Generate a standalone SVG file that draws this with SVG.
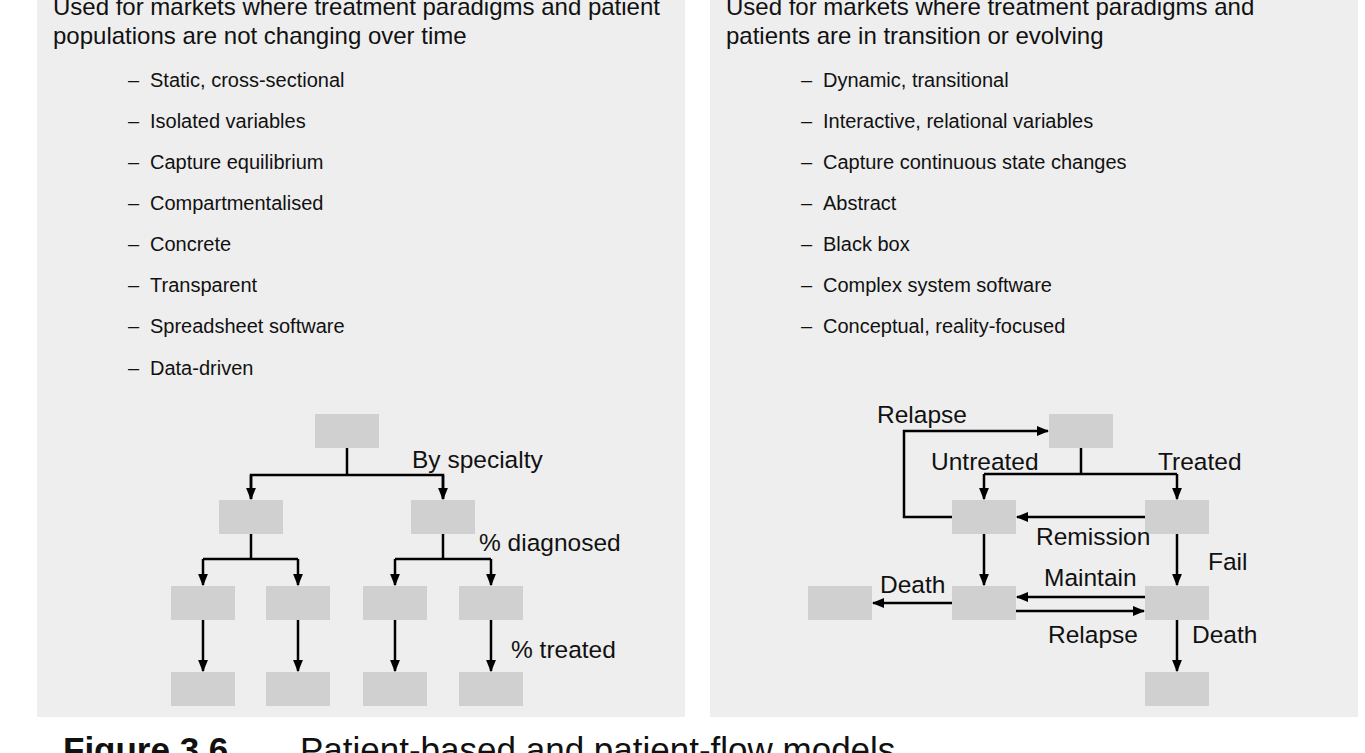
<svg xmlns="http://www.w3.org/2000/svg" width="1365" height="753" viewBox="0 0 1365 753">
<defs>
<marker id="a" viewBox="0 0 10 10" refX="9" refY="5" markerWidth="5" markerHeight="5" orient="auto"><path d="M0,1 L10,5 L0,9 Z" fill="#000"/></marker>
<style>
text{font-family:"Liberation Sans",Arial,sans-serif;fill:#111}
.h{font-size:24px}.b{font-size:20px}.l{font-size:24.5px}
.n{fill:#d0d0d0}
.c path{fill:none;stroke:#000;stroke-width:2.5}
.ar{marker-end:url(#a)}
</style>
</defs>
<rect width="1365" height="753" fill="#fff"/>
<rect x="37" y="0" width="648" height="717" fill="#eeeeee"/>
<rect x="710" y="0" width="648" height="717" fill="#eeeeee"/>
<text class="h" x="53" y="15">Used for markets where treatment paradigms and patient</text>
<text class="h" x="53" y="44">populations are not changing over time</text>
<text class="h" x="726" y="15">Used for markets where treatment paradigms and</text>
<text class="h" x="726" y="44">patients are in transition or evolving</text>
<g class="b">
<text x="128" y="87">–</text><text x="150" y="87" class="b">Static, cross-sectional</text>
<text x="128" y="128">–</text><text x="150" y="128" class="b">Isolated variables</text>
<text x="128" y="169">–</text><text x="150" y="169" class="b">Capture equilibrium</text>
<text x="128" y="210">–</text><text x="150" y="210" class="b">Compartmentalised</text>
<text x="128" y="251">–</text><text x="150" y="251" class="b">Concrete</text>
<text x="128" y="292">–</text><text x="150" y="292" class="b">Transparent</text>
<text x="128" y="333">–</text><text x="150" y="333" class="b">Spreadsheet software</text>
<text x="128" y="375">–</text><text x="150" y="375" class="b">Data-driven</text>
<text x="801" y="87">–</text><text x="823" y="87" class="b">Dynamic, transitional</text>
<text x="801" y="128">–</text><text x="823" y="128" class="b">Interactive, relational variables</text>
<text x="801" y="169">–</text><text x="823" y="169" class="b">Capture continuous state changes</text>
<text x="801" y="210">–</text><text x="823" y="210" class="b">Abstract</text>
<text x="801" y="251">–</text><text x="823" y="251" class="b">Black box</text>
<text x="801" y="292">–</text><text x="823" y="292" class="b">Complex system software</text>
<text x="801" y="333">–</text><text x="823" y="333" class="b">Conceptual, reality-focused</text>
</g>
<g id="tree-nodes">
<rect id="t0" class="n" x="315" y="414" width="64" height="34"/>
<rect id="t1" class="n" x="219" y="500" width="64" height="34"/>
<rect id="t2" class="n" x="411" y="500" width="64" height="34"/>
<rect id="t3" class="n" x="171" y="586" width="64" height="34"/>
<rect id="t4" class="n" x="266" y="586" width="64" height="34"/>
<rect id="t5" class="n" x="363" y="586" width="64" height="34"/>
<rect id="t6" class="n" x="459" y="586" width="64" height="34"/>
<rect id="t7" class="n" x="171" y="672" width="64" height="34"/>
<rect id="t8" class="n" x="266" y="672" width="64" height="34"/>
<rect id="t9" class="n" x="363" y="672" width="64" height="34"/>
<rect id="t10" class="n" x="459" y="672" width="64" height="34"/>
</g>
<g id="flow-nodes">
<rect id="f0" class="n" x="1049" y="414" width="64" height="34"/>
<rect id="f1" class="n" x="952" y="500" width="64" height="34"/>
<rect id="f2" class="n" x="1145" y="500" width="64" height="34"/>
<rect id="f3" class="n" x="952" y="586" width="64" height="34"/>
<rect id="f4" class="n" x="1145" y="586" width="64" height="34"/>
<rect id="f5" class="n" x="808" y="586" width="64" height="34"/>
<rect id="f6" class="n" x="1145" y="672" width="64" height="34"/>
</g>
<g class="c" id="connectors">
<path d="M347,448 V475 M251,499 V475 H443 V499" />
<path class="ar" d="M251,475 V499"/><path class="ar" d="M443,475 V499"/>
<path d="M251,534 V559 H298 M203,559 H251 M443,534 V559 M395,559 H491"/>
<path class="ar" d="M203,559 V585"/><path class="ar" d="M298,559 V585"/>
<path class="ar" d="M395,559 V585"/><path class="ar" d="M491,559 V585"/>
<path class="ar" d="M203,620 V671"/><path class="ar" d="M298,620 V671"/>
<path class="ar" d="M395,620 V671"/><path class="ar" d="M491,620 V671"/>
<path d="M1081,448 V474 M984,474 H1177"/>
<path class="ar" d="M984,474 V499"/><path class="ar" d="M1177,474 V499"/>
<path class="ar" d="M952,517 H904 V431 H1048"/>
<path class="ar" d="M1145,517 H1017"/>
<path class="ar" d="M984,534 V585"/>
<path class="ar" d="M1177,534 V585"/>
<path class="ar" d="M1145,597 H1017"/>
<path class="ar" d="M1016,611 H1144"/>
<path class="ar" d="M952,603 H873"/>
<path class="ar" d="M1177,620 V671"/>
</g>
<g class="l">
<text class="l" x="412" y="468">By specialty</text>
<text class="l" x="479" y="551">% diagnosed</text>
<text class="l" x="511" y="658">% treated</text>
<text class="l" x="877" y="423">Relapse</text>
<text class="l" x="931" y="470">Untreated</text>
<text class="l" x="1158" y="470">Treated</text>
<text class="l" x="1036" y="545">Remission</text>
<text class="l" x="1208" y="570">Fail</text>
<text class="l" x="1044" y="586">Maintain</text>
<text class="l" x="880" y="593">Death</text>
<text class="l" x="1048" y="643">Relapse</text>
<text class="l" x="1192" y="643">Death</text>
</g>
<text x="63" y="762" style="font-size:35px;font-weight:bold">Figure 3.6</text>
<text x="300" y="762" style="font-size:35px">Patient-based and patient-flow models</text>
</svg>
